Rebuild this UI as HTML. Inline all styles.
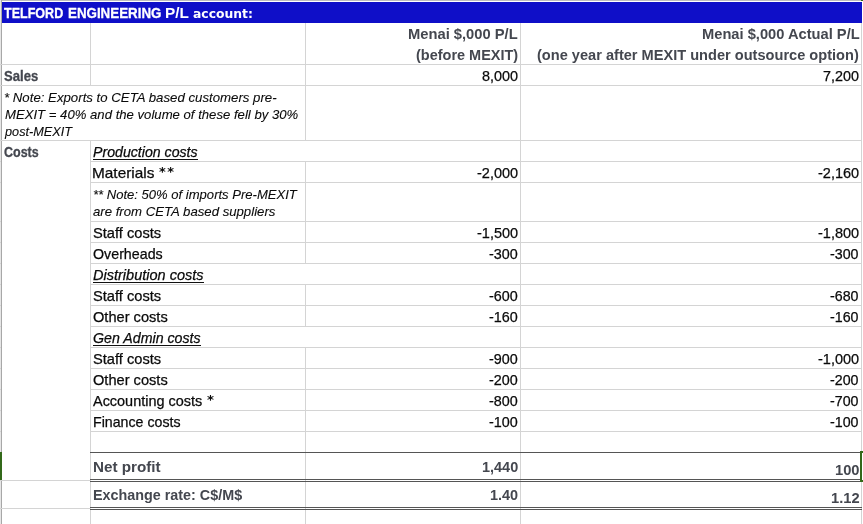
<!DOCTYPE html>
<html><head><meta charset="utf-8"><title>TELFORD ENGINEERING P/L account</title>
<style>
html,body{margin:0;padding:0;background:#fff;}
body{width:863px;height:524px;position:relative;overflow:hidden;font-family:"Liberation Sans",sans-serif;}
.l{position:absolute;background:#d4d4d4;}
.d{position:absolute;background:#555555;}
.k{position:absolute;background:#111;height:1px;}
.t{position:absolute;white-space:nowrap;line-height:20px;height:20px;font-size:14.4px;color:#0a0a0a;transform-origin:0 0;}
.n,.i{-webkit-text-stroke:0.25px;}
.ai{-webkit-text-stroke:0.1px;}
.b{font-weight:bold;}
.i{font-style:italic;}
.ai{font-style:italic;font-size:13.1px;}
.dj{font-family:"DejaVu Sans","Liberation Sans",sans-serif;font-weight:bold;font-size:12px;}
.as{font-family:"DejaVu Sans","Liberation Sans",sans-serif;font-weight:bold;font-size:13px;letter-spacing:1.5px;}
</style></head>
<body>
<div style="position:absolute;left:2px;top:2px;width:860px;height:21px;background:#0f0fc8"></div>
<div class="l" style="left:0;top:0;width:863px;height:1px;background:#bdbdbd"></div>
<div class="l" style="left:0;top:0;width:1px;height:524px;background:#e6e6e6"></div>
<div class="l" style="left:1px;top:0;width:1px;height:524px;background:#a8a8a8"></div>
<div class="l" style="left:90px;top:23px;width:1px;height:62px"></div>
<div class="l" style="left:90px;top:140px;width:1px;height:384px"></div>
<div class="l" style="left:305px;top:23px;width:1px;height:117px"></div>
<div class="l" style="left:305px;top:161px;width:1px;height:102px"></div>
<div class="l" style="left:305px;top:284px;width:1px;height:42px"></div>
<div class="l" style="left:305px;top:347px;width:1px;height:177px"></div>
<div class="l" style="left:520px;top:23px;width:1px;height:501px"></div>
<div class="l" style="left:861px;top:23px;width:1px;height:501px"></div>
<div class="l" style="left:0px;top:64px;width:862px;height:1px"></div>
<div class="l" style="left:0px;top:85px;width:862px;height:1px"></div>
<div class="l" style="left:0px;top:140px;width:862px;height:1px"></div>
<div class="l" style="left:90px;top:161px;width:772px;height:1px"></div>
<div class="l" style="left:0px;top:161px;width:1px;height:1px"></div>
<div class="l" style="left:90px;top:182px;width:772px;height:1px"></div>
<div class="l" style="left:0px;top:182px;width:1px;height:1px"></div>
<div class="l" style="left:90px;top:221px;width:772px;height:1px"></div>
<div class="l" style="left:0px;top:221px;width:1px;height:1px"></div>
<div class="l" style="left:90px;top:242px;width:772px;height:1px"></div>
<div class="l" style="left:0px;top:242px;width:1px;height:1px"></div>
<div class="l" style="left:90px;top:263px;width:772px;height:1px"></div>
<div class="l" style="left:0px;top:263px;width:1px;height:1px"></div>
<div class="l" style="left:90px;top:284px;width:772px;height:1px"></div>
<div class="l" style="left:0px;top:284px;width:1px;height:1px"></div>
<div class="l" style="left:90px;top:305px;width:772px;height:1px"></div>
<div class="l" style="left:0px;top:305px;width:1px;height:1px"></div>
<div class="l" style="left:90px;top:326px;width:772px;height:1px"></div>
<div class="l" style="left:0px;top:326px;width:1px;height:1px"></div>
<div class="l" style="left:90px;top:347px;width:772px;height:1px"></div>
<div class="l" style="left:0px;top:347px;width:1px;height:1px"></div>
<div class="l" style="left:90px;top:368px;width:772px;height:1px"></div>
<div class="l" style="left:0px;top:368px;width:1px;height:1px"></div>
<div class="l" style="left:90px;top:389px;width:772px;height:1px"></div>
<div class="l" style="left:0px;top:389px;width:1px;height:1px"></div>
<div class="l" style="left:90px;top:410px;width:772px;height:1px"></div>
<div class="l" style="left:0px;top:410px;width:1px;height:1px"></div>
<div class="l" style="left:90px;top:431px;width:772px;height:1px"></div>
<div class="l" style="left:0px;top:431px;width:1px;height:1px"></div>
<div class="l" style="left:0px;top:452px;width:1px;height:1px"></div>
<div class="d" style="left:90px;top:452px;width:772px;height:1px"></div>
<div class="l" style="left:0px;top:480px;width:90px;height:1px"></div>
<div class="d" style="left:90px;top:479px;width:772px;height:1px"></div>
<div class="d" style="left:90px;top:481px;width:772px;height:1px"></div>
<div class="l" style="left:0px;top:508px;width:90px;height:1px"></div>
<div class="d" style="left:90px;top:507px;width:772px;height:1px"></div>
<div class="d" style="left:90px;top:509px;width:772px;height:1px"></div>
<div style="position:absolute;left:0;top:452px;width:2px;height:28px;background:#33691a"></div>
<div style="position:absolute;left:860px;top:451px;width:2px;height:31px;background:#33691a"></div>
<div style="position:absolute;left:860px;top:480px;width:3px;height:2px;background:#33691a"></div>
<div style="position:absolute;left:860px;top:451px;width:3px;height:2px;background:#33691a"></div>
<div style="position:absolute;left:861px;top:0;width:2px;height:1px;background:#33691a"></div>
<div class="t b" id="t0" style="left:4.31px;top:3px;transform:scaleX(0.8714);color:#fff;-webkit-text-stroke:0.3px">TELFORD</div>
<div class="t b" id="t1" style="left:67.77px;top:3px;transform:scaleX(0.9273);color:#fff;-webkit-text-stroke:0.3px">ENGINEERING</div>
<div class="t b" id="t2" style="left:165.14px;top:3px;transform:scaleX(1.0667);color:#fff">P/L</div>
<div class="t dj" id="t3" style="left:192.99px;top:4px;transform:scaleX(1.0293);color:#fff">account:</div>
<div class="t b" id="t4" style="left:407.98px;top:24px;transform:scaleX(1.0232);color:#44474f">Menai $,000 P/L</div>
<div class="t b" id="t5" style="left:415.60px;top:45px;transform:scaleX(1.0065);color:#44474f">(before MEXIT)</div>
<div class="t b" id="t6" style="left:701.68px;top:24px;transform:scaleX(1.0199);color:#44474f">Menai $,000 Actual P/L</div>
<div class="t b" id="t7" style="left:537.29px;top:45px;transform:scaleX(1.0136);color:#44474f">(one year after MEXIT under outsource option)</div>
<div class="t b" id="t8" style="left:3.89px;top:66px;transform:scaleX(0.9096);color:#44474f;-webkit-text-stroke:0.3px">Sales</div>
<div class="t n" id="t9" style="left:481.70px;top:66px;transform:scaleX(1.0014)">8,000</div>
<div class="t n" id="t10" style="left:822.80px;top:66px;transform:scaleX(0.9971)">7,200</div>
<div class="t ai" id="t11" style="left:4.39px;top:88px;transform:scaleX(1.0097)">* Note: Exports to CETA based customers pre-</div>
<div class="t ai" id="t12" style="left:4.55px;top:105px;transform:scaleX(1.0034)">MEXIT = 40% and the volume of these fell by 30%</div>
<div class="t ai" id="t13" style="left:4.94px;top:122px;transform:scaleX(0.9708)">post-MEXIT</div>
<div class="t b" id="t14" style="left:4.07px;top:142px;transform:scaleX(0.8667);color:#44474f;-webkit-text-stroke:0.3px">Costs</div>
<div class="t i" id="t15" style="left:93.36px;top:142px;transform:scaleX(0.9835)">Production costs</div>
<div class="k" style="left:93px;top:159px;width:105px"></div>
<div class="t n" id="t16" style="left:92.43px;top:163px;transform:scaleX(1.0684)">Materials</div>
<div class="t as" id="t17" style="left:159.40px;top:162px;transform:scaleX(0.9931)">**</div>
<div class="t n" id="t18" style="left:476.70px;top:163px;transform:scaleX(1.0075)">-2,000</div>
<div class="t n" id="t19" style="left:817.50px;top:163px;transform:scaleX(1.0075)">-2,160</div>
<div class="t ai" id="t20" style="left:93.10px;top:185px;transform:scaleX(0.9966)">** Note: 50% of imports Pre-MEXIT</div>
<div class="t ai" id="t21" style="left:93.45px;top:202px;transform:scaleX(1.0064)">are from CETA based suppliers</div>
<div class="t n" id="t22" style="left:92.64px;top:223px;transform:scaleX(1.0182)">Staff costs</div>
<div class="t n" id="t23" style="left:476.70px;top:223px;transform:scaleX(1.0075)">-1,500</div>
<div class="t n" id="t24" style="left:817.50px;top:223px;transform:scaleX(1.0075)">-1,800</div>
<div class="t n" id="t25" style="left:92.96px;top:244px;transform:scaleX(0.9899)">Overheads</div>
<div class="t n" id="t26" style="left:489.15px;top:244px;transform:scaleX(0.9982)">-300</div>
<div class="t n" id="t27" style="left:830.20px;top:244px;transform:scaleX(0.9893)">-300</div>
<div class="t i" id="t28" style="left:93.35px;top:265px;transform:scaleX(1.0092)">Distribution costs</div>
<div class="k" style="left:93px;top:282px;width:111px"></div>
<div class="t n" id="t29" style="left:92.64px;top:286px;transform:scaleX(1.0182)">Staff costs</div>
<div class="t n" id="t30" style="left:489.15px;top:286px;transform:scaleX(0.9982)">-600</div>
<div class="t n" id="t31" style="left:830.20px;top:286px;transform:scaleX(0.9893)">-680</div>
<div class="t n" id="t32" style="left:92.94px;top:307px;transform:scaleX(1.0152)">Other costs</div>
<div class="t n" id="t33" style="left:489.15px;top:307px;transform:scaleX(0.9982)">-160</div>
<div class="t n" id="t34" style="left:830.20px;top:307px;transform:scaleX(0.9893)">-160</div>
<div class="t i" id="t35" style="left:93.11px;top:328px;transform:scaleX(0.9875)">Gen Admin costs</div>
<div class="k" style="left:93px;top:345px;width:108px"></div>
<div class="t n" id="t36" style="left:92.64px;top:349px;transform:scaleX(1.0182)">Staff costs</div>
<div class="t n" id="t37" style="left:489.15px;top:349px;transform:scaleX(0.9982)">-900</div>
<div class="t n" id="t38" style="left:817.50px;top:349px;transform:scaleX(1.0075)">-1,000</div>
<div class="t n" id="t39" style="left:92.94px;top:370px;transform:scaleX(1.0152)">Other costs</div>
<div class="t n" id="t40" style="left:489.15px;top:370px;transform:scaleX(0.9982)">-200</div>
<div class="t n" id="t41" style="left:830.20px;top:370px;transform:scaleX(0.9893)">-200</div>
<div class="t n" id="t42" style="left:93.40px;top:391px;transform:scaleX(1.0037)">Accounting costs</div>
<div class="t n" id="t43" style="left:489.15px;top:391px;transform:scaleX(0.9982)">-800</div>
<div class="t n" id="t44" style="left:830.20px;top:391px;transform:scaleX(0.9893)">-700</div>
<div class="t n" id="t45" style="left:93.17px;top:412px;transform:scaleX(0.9857)">Finance costs</div>
<div class="t n" id="t46" style="left:489.15px;top:412px;transform:scaleX(0.9982)">-100</div>
<div class="t n" id="t47" style="left:830.20px;top:412px;transform:scaleX(0.9893)">-100</div>
<div class="t as" id="t48" style="left:207.39px;top:390px;transform:scaleX(1.0240)">*</div>
<div class="t b" id="t49" style="left:92.59px;top:457px;transform:scaleX(1.0582);color:#44474f">Net profit</div>
<div class="t b" id="t50" style="left:481.84px;top:457px;transform:scaleX(1.0058);color:#44474f">1,440</div>
<div class="t b" id="t51" style="left:834.88px;top:460px;transform:scaleX(1.0222);color:#44474f">100</div>
<div class="t b" id="t52" style="left:92.65px;top:485px;transform:scaleX(0.9970);color:#44474f">Exchange rate: C$/M$</div>
<div class="t b" id="t53" style="left:490.05px;top:485px;transform:scaleX(1.0038);color:#44474f">1.40</div>
<div class="t b" id="t54" style="left:830.68px;top:488px;transform:scaleX(1.0189);color:#44474f">1.12</div>
</body></html>
